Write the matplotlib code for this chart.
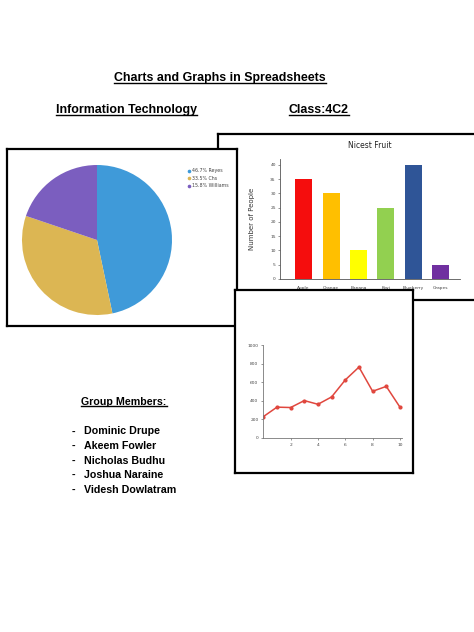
import matplotlib.pyplot as plt
from matplotlib.lines import Line2D

# page text
title = 'Charts and Graphs in Spreadsheets'
subject = 'Information Technology'
klass = 'Class:4C2'
members_head = 'Group Members:'
members = ['Dominic Drupe', 'Akeem Fowler', 'Nicholas Budhu', 'Joshua Naraine', 'Videsh Dowlatram']

# pie chart
pie_values = [46.7, 33.5, 19.8]
pie_labels = ['46.7% Reyes', '33.5% Chs', '15.8% Williams']
pie_colors = ['#3f9ad9', '#dcb653', '#7b5ebf']

# bar chart
fruits = ['Apple', 'Orange', 'Banana', 'Kiwi', 'Blueberry', 'Grapes']
people = [35, 30, 10, 25, 40, 5]
fruit_colors = ['#f50d0d', '#ffbf00', '#ffff00', '#92d050', '#2f5597', '#7030a0']
bar_ticks = [0, 5, 10, 15, 20, 25, 30, 35, 40]

# line chart
line_x = [0, 1, 2, 3, 4, 5, 6, 7, 8, 9, 10]
line_y = [228, 331, 327, 402, 362, 442, 626, 765, 503, 556, 331]
line_yticks = [0, 200, 400, 600, 800, 1000]
line_xticks = [2, 4, 6, 8, 10]

W, H = 474, 632
fig = plt.figure(figsize=(W / 100, H / 100), dpi=100)
fig.patch.set_facecolor('white')


def box(x0, y0, x1, y1):
    return [x0 / W, 1 - y1 / H, (x1 - x0) / W, (y1 - y0) / H]


page = fig.add_axes([0, 0, 1, 1], zorder=0)
page.set_xlim(0, W)
page.set_ylim(H, 0)
page.axis('off')


def panel(x0, y0, x1, y1, z):
    p = fig.add_axes(box(x0, y0, x1, y1), zorder=z)
    p.set_xticks([])
    p.set_yticks([])
    p.set_facecolor('white')
    for s in p.spines.values():
        s.set_linewidth(1.6)
        s.set_color('black')
    return p


# --- bar chart panel (behind) ---
panel(218, 134.5, 490, 300, 1)
bx = fig.add_axes(box(280, 159, 460, 279), zorder=2)
bx.set_facecolor('none')
bx.bar(range(len(fruits)), people, width=0.62, color=fruit_colors)
bx.set_xlim(-0.86, 5.7)
bx.set_ylim(0, 42.1)
bx.set_yticks(bar_ticks)
bx.set_xticks(range(len(fruits)))
bx.set_xticklabels(fruits)
bx.tick_params(labelsize=3.2, colors='#444444', length=1.5, width=0.4, pad=1.5)
bx.tick_params(axis='x', length=0, pad=5)
for s in ['top', 'right']:
    bx.spines[s].set_visible(False)
for s in ['left', 'bottom']:
    bx.spines[s].set_color('#555555')
    bx.spines[s].set_linewidth(0.6)
bx.set_ylabel('Number of People', fontsize=5, color='#333333', labelpad=11)
bx.set_title('Nicest Fruit', fontsize=5.5, color='#222222', pad=8)

# --- pie chart panel ---
panel(7, 149, 237, 326, 3)
px = fig.add_axes(box(22, 165, 172, 315), zorder=4)
wedges, _ = px.pie(pie_values, colors=pie_colors, startangle=90, counterclock=False,
                   wedgeprops=dict(linewidth=0))
px.set_xlim(-1, 1)
px.set_ylim(-1, 1)
handles = [Line2D([], [], marker='o', linestyle='', markersize=1.6, color=c) for c in pie_colors]
px.legend(handles, pie_labels, loc='upper left', bbox_to_anchor=(183 / W, 1 - 164 / H),
          bbox_transform=fig.transFigure, frameon=False, fontsize=3.4, handlelength=0.6,
          handletextpad=0.3, labelspacing=0.55, labelcolor='#444444')

# --- line chart panel (front) ---
panel(235, 290, 413, 473, 5)
lx = fig.add_axes(box(263.3, 345.4, 402, 437.7), zorder=6)
lx.set_facecolor('none')
lx.plot(line_x, line_y, color='#e0473e', linewidth=1.1, marker='o', markersize=2)
lx.set_xlim(0, 10.15)
lx.set_ylim(0, 1000)
lx.set_yticks(line_yticks)
lx.set_xticks(line_xticks)
lx.tick_params(labelsize=3.2, colors='#444444', length=1.5, width=0.4, pad=2)
for s in ['top', 'right']:
    lx.spines[s].set_visible(False)
for s in ['left', 'bottom']:
    lx.spines[s].set_color('#777777')
    lx.spines[s].set_linewidth(0.6)

# --- page text ---
font = dict(family=['Liberation Sans', 'DejaVu Sans'], weight='bold', color='black')
texts = []
texts.append(page.text(220, 78, title, ha='center', va='center', fontsize=8.9, **font))
texts.append(page.text(56, 110, subject, ha='left', va='center', fontsize=8.9, **font))
texts.append(page.text(289, 110, klass, ha='left', va='center', fontsize=8.9, **font))
texts.append(page.text(124, 402, members_head, ha='center', va='center', fontsize=7.7, **font))
for i, name in enumerate(members):
    y = 431.5 + i * 14.6
    page.text(72, y, '-', ha='left', va='center', fontsize=7.7, **font)
    page.text(84, y, name, ha='left', va='center', fontsize=7.7, **font)

# underline headings
fig.canvas.draw()
r = fig.canvas.get_renderer()
inv = page.transData.inverted()
for t in texts:
    bb = t.get_window_extent(r)
    (x0, y0), (x1, y1) = inv.transform([[bb.x0, bb.y0], [bb.x1, bb.y1]])
    page.plot([x0, x1], [y0 - 0.8, y0 - 0.8], color='black', linewidth=1.0)

fig.savefig('out.png', dpi=100)
